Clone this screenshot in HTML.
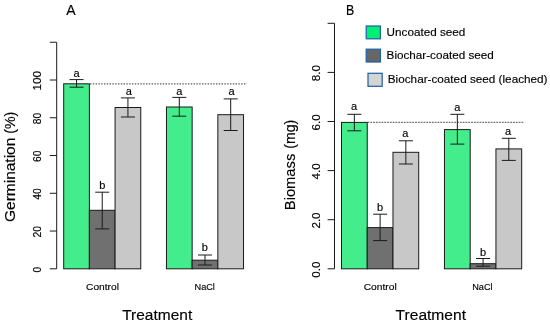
<!DOCTYPE html><html><head><meta charset="utf-8"><title>Figure</title><style>html,body{margin:0;padding:0;background:#fff}svg{display:block}text{font-family:"Liberation Sans", sans-serif;fill:#000;stroke:#000;stroke-width:0.15px}</style></head><body>
<svg width="550" height="326" viewBox="0 0 550 326">
<rect width="550" height="326" fill="#fff"/>
<path d="M56.7 42.24V268.8" stroke="#1a1a1a" stroke-width="1" fill="none"/>
<path d="M49.800000000000004 268.8H56.7" stroke="#1a1a1a" stroke-width="1" fill="none"/>
<path d="M49.800000000000004 231.04H56.7" stroke="#1a1a1a" stroke-width="1" fill="none"/>
<path d="M49.800000000000004 193.28H56.7" stroke="#1a1a1a" stroke-width="1" fill="none"/>
<path d="M49.800000000000004 155.52H56.7" stroke="#1a1a1a" stroke-width="1" fill="none"/>
<path d="M49.800000000000004 117.76H56.7" stroke="#1a1a1a" stroke-width="1" fill="none"/>
<path d="M49.800000000000004 80.0H56.7" stroke="#1a1a1a" stroke-width="1" fill="none"/>
<path d="M49.800000000000004 42.24H56.7" stroke="#1a1a1a" stroke-width="1" fill="none"/>
<path d="M90 83.8H247" stroke="#555" stroke-width="1.35" stroke-dasharray="1.4 1.4" fill="none"/>
<rect x="63.70" y="83.8" width="25.69" height="185.00" fill="#44ed8c" stroke="#1a1a1a" stroke-width="1"/>
<rect x="89.39" y="210.3" width="25.69" height="58.50" fill="#707070" stroke="#1a1a1a" stroke-width="1"/>
<rect x="115.08" y="107.5" width="25.69" height="161.30" fill="#c8c8c8" stroke="#1a1a1a" stroke-width="1"/>
<rect x="166.46" y="107" width="25.69" height="161.80" fill="#44ed8c" stroke="#1a1a1a" stroke-width="1"/>
<rect x="192.15" y="260.2" width="25.69" height="8.60" fill="#707070" stroke="#1a1a1a" stroke-width="1"/>
<rect x="217.84" y="114.7" width="25.69" height="154.10" fill="#c8c8c8" stroke="#1a1a1a" stroke-width="1"/>
<path d="M76.55 79.6V87.2M69.55 79.6H83.55M69.55 87.2H83.55" stroke="#1a1a1a" stroke-width="1" fill="none"/>
<path d="M102.23 192.2V228.9M95.23 192.2H109.23M95.23 228.9H109.23" stroke="#1a1a1a" stroke-width="1" fill="none"/>
<path d="M127.93 97.9V117M120.93 97.9H134.93M120.93 117H134.93" stroke="#1a1a1a" stroke-width="1" fill="none"/>
<path d="M179.31 97.4V116.2M172.31 97.4H186.31M172.31 116.2H186.31" stroke="#1a1a1a" stroke-width="1" fill="none"/>
<path d="M205.00 255.0V265M198.00 255.0H212.00M198.00 265H212.00" stroke="#1a1a1a" stroke-width="1" fill="none"/>
<path d="M230.69 98.9V130.5M223.69 98.9H237.69M223.69 130.5H237.69" stroke="#1a1a1a" stroke-width="1" fill="none"/>
<text x="76.55" y="76.7" font-size="11" text-anchor="middle">a</text>
<text x="102.23" y="189.2" font-size="11" text-anchor="middle">b</text>
<text x="128.73" y="94.7" font-size="11" text-anchor="middle">a</text>
<text x="179.31" y="94.7" font-size="11" text-anchor="middle">a</text>
<text x="204.80" y="251.4" font-size="11" text-anchor="middle">b</text>
<text x="231.49" y="94.7" font-size="11" text-anchor="middle">a</text>
<text transform="translate(41.0 269.6) rotate(-90)" font-size="10" text-anchor="middle" textLength="5.6" lengthAdjust="spacingAndGlyphs">0</text>
<text transform="translate(41.0 231.84) rotate(-90)" font-size="10" text-anchor="middle" textLength="11.4" lengthAdjust="spacingAndGlyphs">20</text>
<text transform="translate(41.0 194.08) rotate(-90)" font-size="10" text-anchor="middle" textLength="11.4" lengthAdjust="spacingAndGlyphs">40</text>
<text transform="translate(41.0 156.32000000000002) rotate(-90)" font-size="10" text-anchor="middle" textLength="11.4" lengthAdjust="spacingAndGlyphs">60</text>
<text transform="translate(41.0 118.56) rotate(-90)" font-size="10" text-anchor="middle" textLength="11.4" lengthAdjust="spacingAndGlyphs">80</text>
<text transform="translate(41.0 80.8) rotate(-90)" font-size="10" text-anchor="middle" textLength="19.6" lengthAdjust="spacingAndGlyphs">100</text>
<text transform="translate(15 222) rotate(-90)" font-size="14.6" textLength="84.3" lengthAdjust="spacingAndGlyphs">Germination</text>
<text transform="translate(15 133.8) rotate(-90)" font-size="14.6" textLength="22" lengthAdjust="spacingAndGlyphs">(%)</text>
<text x="70.85" y="14.7" font-size="14.3" text-anchor="middle" textLength="9.4" lengthAdjust="spacingAndGlyphs">A</text>
<text x="102.5" y="290.3" font-size="9.9" text-anchor="middle" textLength="33" lengthAdjust="spacingAndGlyphs">Control</text>
<text x="204.7" y="290.3" font-size="9.9" text-anchor="middle" textLength="20.4" lengthAdjust="spacingAndGlyphs">NaCl</text>
<text x="122.2" y="320.2" font-size="15.2" textLength="70" lengthAdjust="spacingAndGlyphs">Treatment</text>
<path d="M334.5 23.3V268.8" stroke="#1a1a1a" stroke-width="1" fill="none"/>
<path d="M327.6 268.8H334.5" stroke="#1a1a1a" stroke-width="1" fill="none"/>
<path d="M327.6 219.7H334.5" stroke="#1a1a1a" stroke-width="1" fill="none"/>
<path d="M327.6 170.6H334.5" stroke="#1a1a1a" stroke-width="1" fill="none"/>
<path d="M327.6 121.5H334.5" stroke="#1a1a1a" stroke-width="1" fill="none"/>
<path d="M327.6 72.4H334.5" stroke="#1a1a1a" stroke-width="1" fill="none"/>
<path d="M327.6 23.3H334.5" stroke="#1a1a1a" stroke-width="1" fill="none"/>
<path d="M367.5 122.3H523.6" stroke="#222" stroke-width="0.8" stroke-dasharray="1.8 1" fill="none"/>
<rect x="341.50" y="122.4" width="25.74" height="146.40" fill="#44ed8c" stroke="#1a1a1a" stroke-width="1"/>
<rect x="367.24" y="227.6" width="25.74" height="41.20" fill="#707070" stroke="#1a1a1a" stroke-width="1"/>
<rect x="392.98" y="152.3" width="25.74" height="116.50" fill="#c8c8c8" stroke="#1a1a1a" stroke-width="1"/>
<rect x="444.46" y="129.6" width="25.74" height="139.20" fill="#44ed8c" stroke="#1a1a1a" stroke-width="1"/>
<rect x="470.20" y="263.7" width="25.74" height="5.10" fill="#707070" stroke="#1a1a1a" stroke-width="1"/>
<rect x="495.94" y="148.9" width="25.74" height="119.90" fill="#c8c8c8" stroke="#1a1a1a" stroke-width="1"/>
<path d="M354.37 114.3V130.8M347.37 114.3H361.37M347.37 130.8H361.37" stroke="#1a1a1a" stroke-width="1" fill="none"/>
<path d="M380.11 214.2V240.6M373.11 214.2H387.11M373.11 240.6H387.11" stroke="#1a1a1a" stroke-width="1" fill="none"/>
<path d="M405.85 140.8V164M398.85 140.8H412.85M398.85 164H412.85" stroke="#1a1a1a" stroke-width="1" fill="none"/>
<path d="M457.33 114.3V144.1M450.33 114.3H464.33M450.33 144.1H464.33" stroke="#1a1a1a" stroke-width="1" fill="none"/>
<path d="M483.07 258.5V266.2M476.07 258.5H490.07M476.07 266.2H490.07" stroke="#1a1a1a" stroke-width="1" fill="none"/>
<path d="M508.81 138.3V160.4M501.81 138.3H515.81M501.81 160.4H515.81" stroke="#1a1a1a" stroke-width="1" fill="none"/>
<text x="354.17" y="110.1" font-size="11" text-anchor="middle">a</text>
<text x="380.11" y="211.2" font-size="11" text-anchor="middle">b</text>
<text x="405.25" y="137.0" font-size="11" text-anchor="middle">a</text>
<text x="457.33" y="110.8" font-size="11" text-anchor="middle">a</text>
<text x="483.07" y="255.8" font-size="11" text-anchor="middle">b</text>
<text x="508.11" y="134.9" font-size="11" text-anchor="middle">a</text>
<text transform="translate(320.1 269.6) rotate(-90)" font-size="10" text-anchor="middle" textLength="16.2" lengthAdjust="spacingAndGlyphs">0.0</text>
<text transform="translate(320.1 220.5) rotate(-90)" font-size="10" text-anchor="middle" textLength="16.2" lengthAdjust="spacingAndGlyphs">2.0</text>
<text transform="translate(320.1 171.4) rotate(-90)" font-size="10" text-anchor="middle" textLength="16.2" lengthAdjust="spacingAndGlyphs">4.0</text>
<text transform="translate(320.1 122.3) rotate(-90)" font-size="10" text-anchor="middle" textLength="16.2" lengthAdjust="spacingAndGlyphs">6.0</text>
<text transform="translate(320.1 73.2) rotate(-90)" font-size="10" text-anchor="middle" textLength="16.2" lengthAdjust="spacingAndGlyphs">8.0</text>
<text transform="translate(294.6 210.2) rotate(-90)" font-size="14.6" textLength="56.5" lengthAdjust="spacingAndGlyphs">Biomass</text>
<text transform="translate(294.6 148.8) rotate(-90)" font-size="14.6" textLength="29" lengthAdjust="spacingAndGlyphs">(mg)</text>
<text x="350" y="14.7" font-size="14.3" text-anchor="middle" textLength="8.2" lengthAdjust="spacingAndGlyphs">B</text>
<text x="380.2" y="290.3" font-size="9.9" text-anchor="middle" textLength="33" lengthAdjust="spacingAndGlyphs">Control</text>
<text x="482.4" y="290.3" font-size="9.9" text-anchor="middle" textLength="20.4" lengthAdjust="spacingAndGlyphs">NaCl</text>
<text x="395.6" y="320.2" font-size="15.2" textLength="70.4" lengthAdjust="spacingAndGlyphs">Treatment</text>
<rect x="366.2" y="26" width="14.2" height="12.8" fill="#00f076" stroke="#2462a8" stroke-width="1.25"/>
<rect x="366.2" y="49.2" width="14.2" height="12.8" fill="#666" stroke="#2462a8" stroke-width="1.25"/>
<rect x="368" y="73.3" width="14.2" height="13" fill="#d4d4d4" stroke="#2462a8" stroke-width="1.25"/>
<text x="386.6" y="36.4" font-size="11.7" textLength="78.7" lengthAdjust="spacingAndGlyphs">Uncoated seed</text>
<text x="386.6" y="58.5" font-size="11.7" textLength="107.2" lengthAdjust="spacingAndGlyphs">Biochar-coated seed</text>
<text x="387.8" y="83.2" font-size="11.7" textLength="159.7" lengthAdjust="spacingAndGlyphs">Biochar-coated seed (leached)</text>
</svg></body></html>
